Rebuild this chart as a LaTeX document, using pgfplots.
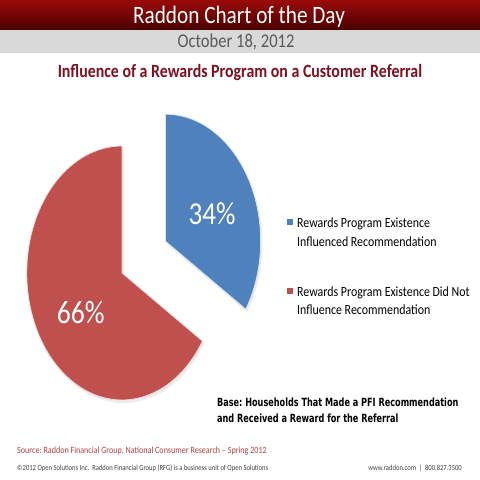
\documentclass[border=0pt]{standalone}
\usepackage{pgfplots}
\pgfplotsset{compat=1.18}
\usepackage{pgfplotstable}
\usepackage{fontspec}
\setmainfont{Carlito}[FakeStretch=0.85]
\newfontfamily\basefont{DejaVu Sans}[FakeStretch=0.72]
\definecolor{pieblue}{HTML}{4F81BD}
\definecolor{piered}{HTML}{C0504D}
\definecolor{bantop}{HTML}{9A0A0A}
\definecolor{banbot}{HTML}{4A0000}
\definecolor{titlered}{HTML}{7F1020}
\definecolor{graybar}{HTML}{D9D9D9}
\definecolor{datetext}{HTML}{595959}
\definecolor{srcred}{HTML}{B0403D}
\definecolor{smallgray}{HTML}{404040}

\pgfplotstableread{
slice value
Influenced 34
NotInfluenced 66
}\piedata

\begin{document}
\frenchspacing
\begin{tikzpicture}[x=1pt,y=1pt]
\pgfplotstablegetelem{0}{value}\of\piedata
\pgfmathtruncatemacro\va{\pgfplotsretval}
\pgfmathsetmacro\sA{90-3.6*\va}
\pgfmathsetmacro\mA{90-1.8*\va}
\pgfmathsetmacro\rcx{162.7}
\pgfmathsetmacro\rcy{207}
\pgfmathsetmacro\bcx{\rcx+66*cos(\mA)}
\pgfmathsetmacro\bcy{\rcy+66*sin(\mA)}
\pgfmathtruncatemacro\vb{100-\va}
% background
\fill[white] (0,0) rectangle (480,480);
\shade[top color=bantop, bottom color=banbot] (0,450) rectangle (480,480);
\fill[graybar] (0,427.3) rectangle (480,450);
\node[anchor=base, inner sep=0, text=white] at (239,456) {\fontsize{25}{25}\selectfont Raddon Chart of the Day};
\node[anchor=base, inner sep=0, text=datetext] at (236,432.5) {\fontsize{19.5}{19.5}\selectfont October 18, 2012};
\node[anchor=base, inner sep=0, text=titlered] at (240,402) {\fontsize{18.7}{18.7}\selectfont\bfseries Influence of a Rewards Program on a Customer Referral};
\begin{axis}[at={(0,0)}, anchor=south west, x=0.75pt, y=1pt,
  xmin=0, xmax=640, ymin=0, ymax=480, hide axis, clip=false]
\fill[gray, opacity=0.15] (axis cs:\rcx+2,\rcy-3) -- ++(\sA:95.25pt and 127pt)
  arc[start angle=\sA, end angle=-270, x radius=95.25pt, y radius=127pt] -- cycle;
\fill[gray, opacity=0.15] (axis cs:\bcx+2,\bcy-3) -- ++(90:95.25pt and 127pt)
  arc[start angle=90, end angle=\sA, x radius=95.25pt, y radius=127pt] -- cycle;
\filldraw[fill=piered, draw=white!80!piered, line width=0.8pt] (axis cs:\rcx,\rcy) -- ++(\sA:95.25pt and 127pt)
  arc[start angle=\sA, end angle=-270, x radius=95.25pt, y radius=127pt] -- cycle;
\filldraw[fill=pieblue, draw=white!80!pieblue, line width=0.8pt] (axis cs:\bcx,\bcy) -- ++(90:95.25pt and 127pt)
  arc[start angle=90, end angle=\sA, x radius=95.25pt, y radius=127pt] -- cycle;
\node[anchor=base, inner sep=0, text=white] at (axis cs:282.7,255) {\fontsize{32}{32}\selectfont\va\%};
\node[anchor=base, inner sep=0, text=white] at (axis cs:107.7,156.7) {\fontsize{32.5}{32.5}\selectfont\vb\%};
\end{axis}
% legend
\fill[pieblue] (287,255) rectangle (293,261);
\node[anchor=base west, inner sep=0] at (297,252) {\fontsize{14}{14}\selectfont Rewards Program Existence};
\node[anchor=base west, inner sep=0] at (297,233.3) {\fontsize{14}{14}\selectfont Influenced Recommendation};
\fill[piered] (287,186) rectangle (293,192.3);
\node[anchor=base west, inner sep=0] at (297,183.3) {\fontsize{14}{14}\selectfont Rewards Program Existence Did Not};
\node[anchor=base west, inner sep=0] at (297,165) {\fontsize{14}{14}\selectfont Influence Recommendation};
% base note
\node[anchor=base west, inner sep=0] at (217,73) {\fontsize{11.3}{11.3}\selectfont\basefont\bfseries Base: Households That Made a PFI Recommendation};
\node[anchor=base west, inner sep=0] at (217,57) {\fontsize{11.3}{11.3}\selectfont\basefont\bfseries and Received a Reward for the Referral};
% footer
\node[anchor=base west, inner sep=0, text=srcred] at (17,26.7) {\fontsize{9.5}{9.5}\selectfont Source: Raddon Financial Group, National Consumer Research – Spring 2012};
\node[anchor=base west, inner sep=0, text=smallgray] at (17,9.3) {\fontsize{7.75}{7.75}\selectfont ©2012 Open Solutions Inc.\ \ Raddon Financial Group (RFG) is a business unit of Open Solutions};
\node[anchor=base east, inner sep=0, text=smallgray] at (462,9.3) {\fontsize{7.75}{7.75}\selectfont www.raddon.com \ |\ \ 800.827.3500};
\end{tikzpicture}
\end{document}
